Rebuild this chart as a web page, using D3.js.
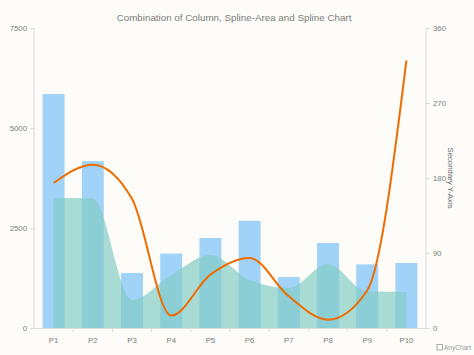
<!DOCTYPE html>
<html><head><meta charset="utf-8">
<script src="https://cdn.jsdelivr.net/npm/d3@7"></script>
<style>
html,body{margin:0;padding:0;background:#fdfcf9;}
svg{display:block;font-family:"Liberation Sans",Arial,sans-serif;}
</style></head><body>
<svg id="chart" width="474" height="355"></svg>
<script>
const categories = ["P1","P2","P3","P4","P5","P6","P7","P8","P9","P10"];
const columnValues = [5850,4170,1375,1860,2250,2680,1275,2125,1590,1625];
const areaValues = [3250,3240,700,1325,1825,1200,1000,1600,910,900];
const lineValues = [174,196,155,15,64,84,38,10,45,321];
const leftTicks = [0,2500,5000,7500];
const rightTicks = [0,90,180,270,360];
const titleText = "Combination of Column, Spline-Area and Spline Chart";
const rightAxisTitle = "Secondary Y-Axis";

const W=474,H=355;
const m={l:34,r:48,t:28,b:27};
const svg=d3.select("#chart");
svg.append("rect").attr("width",W).attr("height",H).attr("fill","#fdfcf9");

const x=d3.scaleBand().domain(categories).range([m.l,W-m.r]).paddingInner(0).paddingOuter(0);
const yL=d3.scaleLinear().domain([0,7500]).range([H-m.b,m.t]);
const yR=d3.scaleLinear().domain([0,360]).range([H-m.b,m.t]);
const cx=d=>x(d)+x.bandwidth()/2;

// columns
const barW=x.bandwidth()*0.56;
svg.append("g").selectAll("rect").data(categories).join("rect")
  .attr("x",d=>cx(d)-barW/2).attr("width",barW)
  .attr("y",(d,i)=>yL(columnValues[i])).attr("height",(d,i)=>yL(0)-yL(columnValues[i]))
  .attr("fill","#64b5f6").attr("fill-opacity",0.6);

// spline area
const area=d3.area().x((d,i)=>cx(categories[i])).y0(yL(0)).y1(d=>yL(d)).curve(d3.curveMonotoneX);
svg.append("path").datum(areaValues).attr("d",area).attr("fill","#80cbc4").attr("fill-opacity",0.68);

// spline line
const line=d3.line().x((d,i)=>cx(categories[i])).y(d=>yR(d)).curve(d3.curveMonotoneX);
svg.append("path").datum(lineValues).attr("d",line).attr("fill","none").attr("stroke","#ef6c00").attr("stroke-width",2);

// axes
const axisColor="#dcdcdc", textColor="#7c7c7c";
const gL=svg.append("g").attr("transform",`translate(${m.l},0)`)
  .call(d3.axisLeft(yL).tickValues(leftTicks).tickSize(4).tickPadding(3).tickFormat(d3.format("d")));
const gR=svg.append("g").attr("transform",`translate(${W-m.r},0)`)
  .call(d3.axisRight(yR).tickValues(rightTicks).tickSize(4).tickPadding(3));
const gX=svg.append("g").attr("transform",`translate(0,${H-m.b})`)
  .call(d3.axisBottom(x).tickSize(0).tickPadding(9));
// x ticks at band boundaries
gX.append("g").selectAll("line").data(categories.slice(1)).join("line")
  .attr("x1",d=>x(d)).attr("x2",d=>x(d)).attr("y1",0).attr("y2",4).attr("stroke",axisColor);
[gL,gR,gX].forEach(g=>{
  g.select(".domain").attr("stroke",axisColor).attr("stroke-width",1);
  g.selectAll(".tick line").attr("stroke",axisColor);
  g.selectAll("text").attr("fill",textColor).attr("font-size",7.8).attr("font-family","Liberation Sans,Arial,sans-serif");
});
gL.select(".domain").attr("d",`M0,${m.t}V${H-m.b}`);
gR.select(".domain").attr("d",`M0,${m.t}V${H-m.b}`);

// title
svg.append("text").attr("x",234).attr("y",21).attr("text-anchor","middle")
  .attr("fill",textColor).attr("font-size",9.8).text(titleText);
// right axis title
svg.append("text").attr("transform",`translate(451,178) rotate(90)`).attr("text-anchor","middle").attr("dy","0.35em")
  .attr("fill","#666").attr("font-size",7.8).text(rightAxisTitle);
// credit
const cr=svg.append("g").attr("transform","translate(437,350)");
cr.append("rect").attr("x",0).attr("y",-5.5).attr("width",5.5).attr("height",5.5).attr("fill","none").attr("stroke","#999").attr("stroke-width",0.8);
cr.append("text").attr("x",7).attr("y",0).attr("fill","#999").attr("font-size",6.5).text("AnyChart");
</script></body></html>
